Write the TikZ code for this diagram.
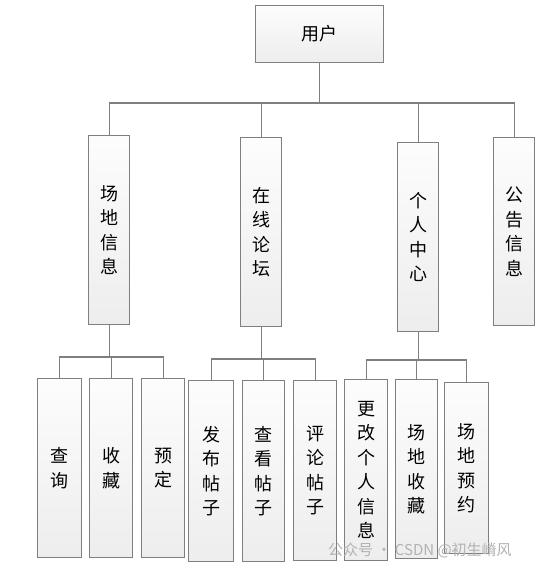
\documentclass[tikz,border=0pt]{standalone}
\usepackage{fontspec}
\newfontfamily\cjk{Noto Sans CJK SC}
\usetikzlibrary{shadows}
\definecolor{edge}{HTML}{7F7F7F}
\begin{document}
\begin{tikzpicture}[x=1pt,y=-1pt,
  box/.style={draw=edge, line width=1.3pt, top color=black!1, bottom color=black!7,
    drop shadow={shadow xshift=0.8pt, shadow yshift=-0.8pt, opacity=0.35, fill=black!60},
    anchor=north west, inner sep=0pt, align=center,
    font=\cjk\fontsize{18}{24.5}\selectfont},
  link/.style={draw=edge, line width=1.3pt}]
\useasboundingbox (0,0) rectangle (545,571);
\newcommand{\bx}[6]{\node[box, minimum width={(#4-#2)*1pt}, minimum height={(#5-#3)*1pt}] (#1) at (#2,#3) {#6};}
\bx{user}{255}{5}{383}{62}{用户}
\bx{a}{88}{135}{129}{324}{场\\地\\信\\息}
\bx{b}{240}{137}{281}{326}{在\\线\\论\\坛}
\bx{c}{397}{142}{438}{331}{个\\人\\中\\心}
\bx{d}{493}{137}{534}{325}{公\\告\\信\\息}
\bx{a1}{37}{378}{81}{557}{查\\询}
\bx{a2}{89}{378}{132}{557}{收\\藏}
\bx{a3}{141}{378}{184}{557}{预\\定}
\bx{b1}{188}{380}{233}{561}{发\\布\\帖\\子}
\bx{b2}{242}{380}{284}{561}{查\\看\\帖\\子}
\bx{b3}{293}{380}{336}{560}{评\\论\\帖\\子}
\bx{c1}{344}{379}{387}{560}{更\\改\\个\\人\\信\\息}
\bx{c2}{395}{379}{437}{558}{场\\地\\收\\藏}
\bx{c3}{444}{382}{488}{553}{场\\地\\预\\约}
% level 1 bus
\coordinate (bus) at (0,103);
\draw[link] (user.south) -- (user.south |- bus);
\draw[link] (a.north) -- (a.north |- bus) -| (d.north);
\draw[link] (b.north) -- (b.north |- bus);
\draw[link] (c.north) -- (c.north |- bus);
% level 2 buses
\coordinate (abus) at (a.south |- 0,357);
\coordinate (bbus) at (b.south |- 0,359);
\coordinate (cbus) at (c.south |- 0,360);
\draw[link] (a.south) -- (abus);
\draw[link] (a1.north) |- (abus) -| (a3.north);
\draw[link] (a2.north) -- (a2.north |- abus);
\draw[link] (b.south) -- (bbus);
\draw[link] (b1.north) |- (bbus) -| (b3.north);
\draw[link] (b2.north) -- (b2.north |- bbus);
\draw[link] (c.south) -- (cbus);
\draw[link] (c1.north) |- (cbus) -| (c3.north);
\draw[link] (c2.north) -- (c2.north |- cbus);
% watermark
\node[text=black!30, font=\cjk\fontsize{15}{15}\selectfont, anchor=west, inner sep=0pt] (wm) at (328,550) {公众号 · CSDN @初生嵴风};
\end{tikzpicture}
\end{document}
